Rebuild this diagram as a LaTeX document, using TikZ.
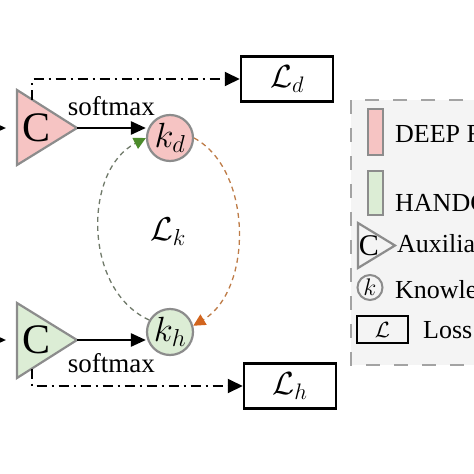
\documentclass[tikz,border=0pt]{standalone}
\usepackage{fix-cm}
\usepackage{fontspec}
\setmainfont{Liberation Serif}
\usetikzlibrary{arrows.meta,positioning,calc}
\definecolor{deep_fill}{HTML}{F6C4C3}
\definecolor{hand_fill}{HTML}{DCEDD5}
\definecolor{shape_gray}{HTML}{8C8C8C}
\definecolor{legend_fill}{HTML}{F4F4F4}
\definecolor{legend_line}{HTML}{A3A3A3}
\definecolor{kd_green}{HTML}{4C8B2B}
\definecolor{kd_line}{HTML}{707A6A}
\definecolor{kh_orange}{HTML}{D2651E}
\definecolor{kh_line}{HTML}{BE7C48}

\begin{document}
\begin{tikzpicture}[x=1pt, y=-1pt,
        flow/.style={line width=2.5pt, -{Triangle[length=15pt, width=13pt]}},
        lossflow/.style={line width=2pt, dash pattern=on 10pt off 5pt on 2pt off 5pt, -{Triangle[length=15pt, width=14pt]}},
        clfline/.style={draw=shape_gray, line width=2.2pt, line join=miter},
        bigc/.style={inner sep=0pt, font=\fontsize{42}{44}\selectfont},
        know/.style={circle, draw=shape_gray, line width=2.2pt, minimum size=46pt, inner sep=0pt, font=\fontsize{35}{37}\selectfont},
        lossbox/.style={draw, line width=2.5pt, minimum width=92pt, minimum height=45pt, inner sep=0pt, font=\fontsize{32}{34}\selectfont},
        softlbl/.style={inner sep=0pt, font=\fontsize{27}{29}\selectfont},
        legtext/.style={inner sep=0pt, anchor=base west, font=\fontsize{26}{28}\selectfont}]
    \useasboundingbox (0,0) rectangle (474,474);

    % legend
    \filldraw[fill=legend_fill, draw=legend_line, line width=2pt, dash pattern=on 14pt off 14pt] (351,100) rectangle (520,365);
    \node[draw=shape_gray, line width=2.2pt, fill=deep_fill, minimum width=15pt, minimum height=46pt, inner sep=0pt] (legdeep) at (375.5,132) {};
    \node[legtext] (deeptxt) at (395,142) {DEEP FEATURE};
    \node[draw=shape_gray, line width=2.2pt, fill=hand_fill, minimum width=15pt, minimum height=44pt, inner sep=0pt] (leghand) at (375.5,193) {};
    \node[legtext] (handtxt) at (395,211) {HANDCRAFTED FEATURE};
    \draw[clfline, fill=legend_fill] (358,223) coordinate (lctop) -- (395,245.5) coordinate (lctip) -- (358,268) -- cycle;
    \node[inner sep=0pt, font=\fontsize{30}{32}\selectfont] (legc) at (369,246) {C};
    \node[legtext] (clftxt) at (397,252) {Auxiliary classifier};
    \node[circle, draw=shape_gray, line width=2pt, minimum size=25pt, inner sep=0pt, font=\fontsize{24}{26}\selectfont] (legk) at (370,287.5) {$k$};
    \node[legtext] (knowtxt) at (395,298) {Knowledge};
    \node[draw, line width=2.2pt, minimum width=51pt, minimum height=27pt, inner sep=0pt, font=\fontsize{22}{24}\selectfont] (legloss) at (382.5,329.5) {$\mathcal{L}$};
    \node[legtext] (losstxt) at (423,338) {Loss function};

    % deep branch
    \draw[clfline, fill=deep_fill] (17,90) coordinate (cdtop) -- (77,128) coordinate (cdtip) -- (17,165) -- cycle;
    \node[bigc] (cdlabel) at (37,128) {C};
    \node[know, fill=deep_fill] (kd) at (170,138) {$k_d$};
    \node[lossbox] (ld) at (287,79) {$\mathcal{L}_d$};
    \coordinate (dinL) at (-30,128);
    \coordinate (dinR) at (6,128);
    \draw[flow] (dinL) -- (dinR);
    \draw[flow] (cdtip) -- (cdtip -| kd.west) node[midway, above=11pt, softlbl] (smd) {softmax};
    \draw[lossflow] ($(cdtop)!0.25!(cdtip)$) |- (ld.west);

    % handcrafted branch
    \draw[clfline, fill=hand_fill] (17,303) -- (77,340) coordinate (chtip) -- (17,378) coordinate (chbot) -- cycle;
    \node[bigc] (chlabel) at (37,340) {C};
    \node[know, fill=hand_fill] (kh) at (170,332) {$k_h$};
    \node[lossbox] (lh) at (290,386) {$\mathcal{L}_h$};
    \coordinate (hinL) at (-30,340);
    \coordinate (hinR) at (6,340);
    \draw[flow] (hinL) -- (hinR);
    \draw[flow] (chtip) -- (chtip -| kh.west) node[midway, below=12pt, softlbl] (smh) {softmax};
    \draw[lossflow] ($(chbot)!0.25!(chtip)$) |- (lh.west);

    % knowledge loss
    \draw[kd_line, line width=1.3pt, dash pattern=on 5pt off 4pt, -{Triangle[length=12pt, width=12pt, fill=kd_green, color=kd_green]}]
        (kh.150) .. controls (83,290) and (83,170) .. (kd.west);
    \draw[kh_line, line width=1.3pt, dash pattern=on 5pt off 4pt, -{Triangle[length=12pt, width=12pt, fill=kh_orange, color=kh_orange]}]
        (kd.east) .. controls (253,170) and (253,290) .. (kh.15);
    \node[font=\fontsize{33}{35}\selectfont] (lk) at (168,232) {$\mathcal{L}_k$};
\end{tikzpicture}
\end{document}
